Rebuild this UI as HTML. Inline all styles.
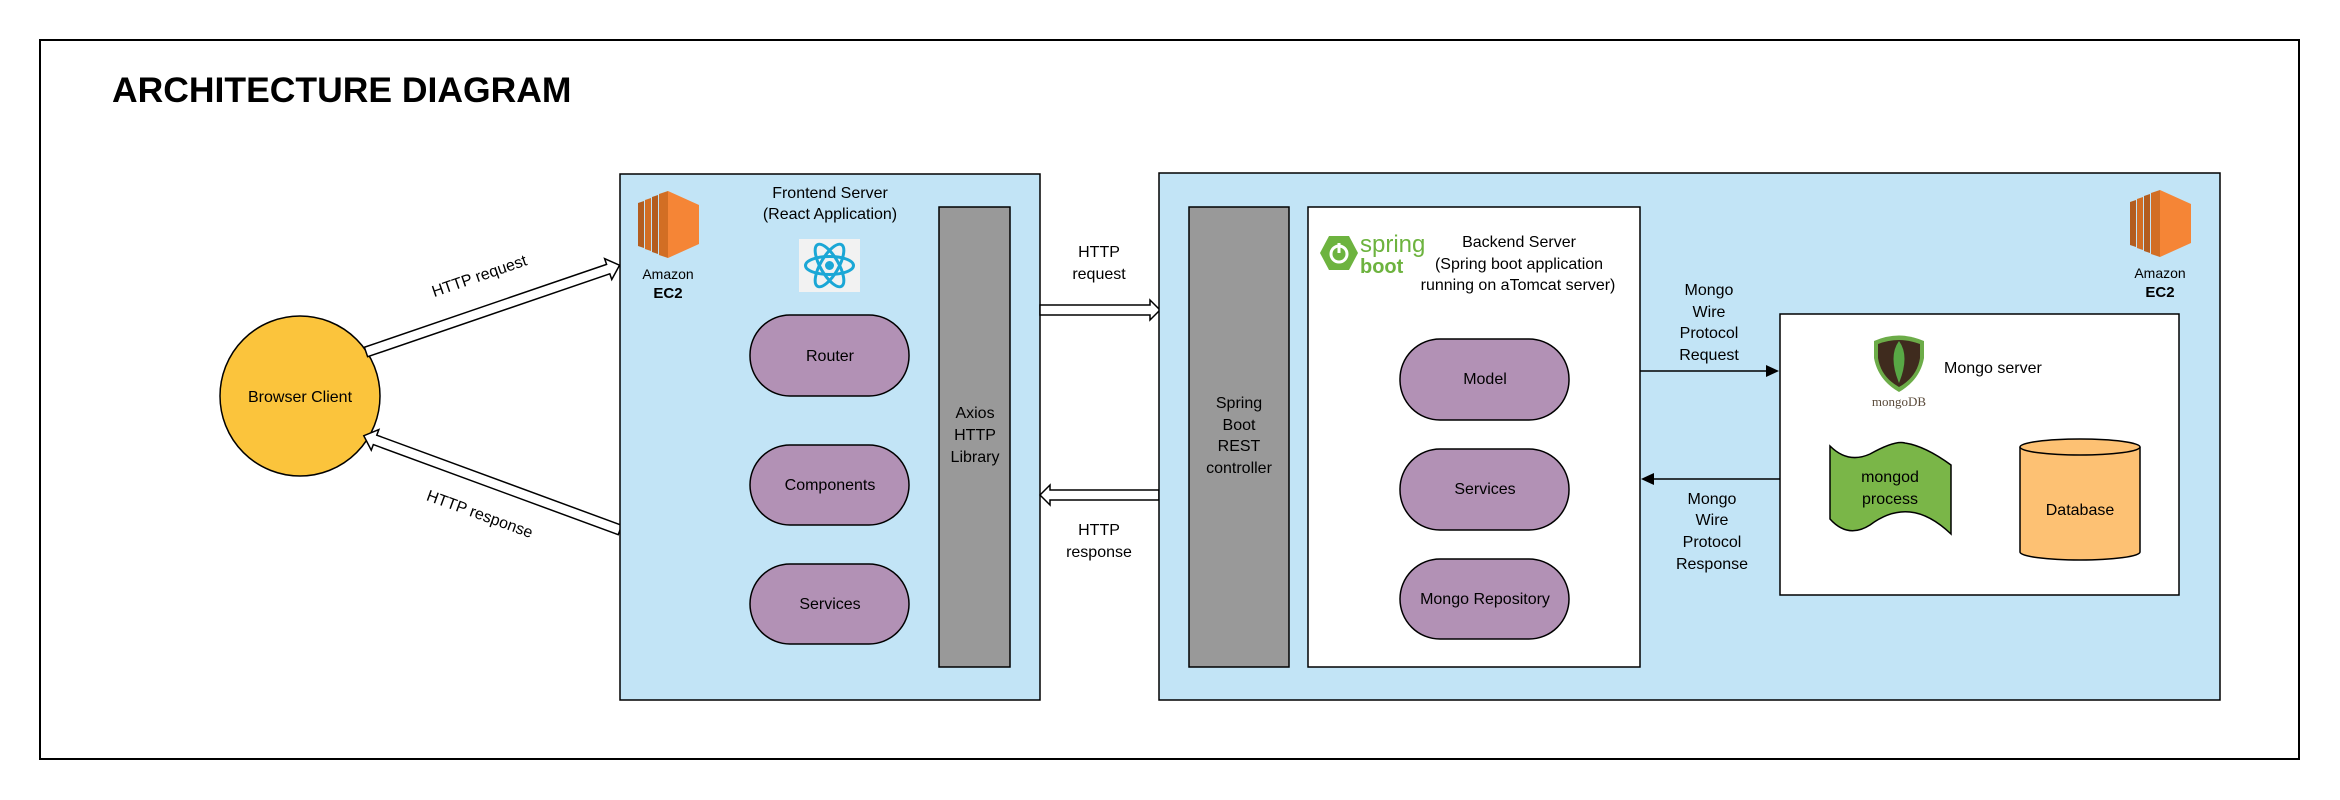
<!DOCTYPE html>
<html><head><meta charset="utf-8"><style>
html,body{margin:0;padding:0;background:#fff;}
svg{display:block;}
text{font-family:"Liberation Sans",sans-serif;fill:#000;}
</style></head><body>
<svg width="2340" height="800" viewBox="0 0 2340 800" xmlns="http://www.w3.org/2000/svg">
<defs>
<g id="ec2">
  <polygon points="0,12 6,10 6,57 0,55" fill="#b35d1f"/>
  <polygon points="7,9 13,7 13,60 7,58" fill="#d26e24"/>
  <polygon points="14,6 20,4 20,63 14,61" fill="#b35d1f"/>
  <polygon points="21,3 30,0 30,67 21,64" fill="#d26e24"/>
  <polygon points="30,0 61,14 61,53 30,67" fill="#f58536"/>
</g>
</defs>
<rect x="40" y="40" width="2259" height="719" fill="#fff" stroke="#000" stroke-width="2"/>
<text x="112" y="102" font-size="35.5" font-weight="bold">ARCHITECTURE DIAGRAM</text>

<!-- Browser client -->
<circle cx="300" cy="396" r="80" fill="#fbc43c" stroke="#000" stroke-width="1.5"/>
<text x="300" y="402" font-size="16" text-anchor="middle">Browser Client</text>

<!-- hollow arrows -->
<g transform="translate(366,352) rotate(-18.9)">
  <polygon points="0,-5 256,-5 256,-11 268,0 256,11 256,5 0,5" fill="#fff" stroke="#000" stroke-width="1.5"/>
</g>
<text x="0" y="0" font-size="16" text-anchor="middle" transform="translate(481,281) rotate(-19)">HTTP request</text>
<g transform="translate(620,530) rotate(200.2)">
  <polygon points="0,-5 261,-5 261,-11 273,0 261,11 261,5 0,5" fill="#fff" stroke="#000" stroke-width="1.5"/>
</g>
<text x="0" y="0" font-size="16" text-anchor="middle" transform="translate(478,519) rotate(20)">HTTP response</text>

<!-- Frontend -->
<rect x="620" y="174" width="420" height="526" fill="#c2e4f6" stroke="#000" stroke-width="1.5"/>
<use href="#ec2" x="638" y="191"/>
<text x="668" y="279" font-size="14" text-anchor="middle" fill="#222">Amazon</text>
<text x="668" y="298" font-size="15" font-weight="bold" text-anchor="middle">EC2</text>
<text x="830" y="198" font-size="16" text-anchor="middle">Frontend Server</text>
<text x="830" y="219" font-size="16" text-anchor="middle">(React Application)</text>
<rect x="799" y="239" width="61" height="53" fill="#f2f2f2"/>
<g transform="translate(829.5,265.5)" fill="none" stroke="#1ba7d6" stroke-width="3">
  <ellipse rx="24" ry="9"/>
  <ellipse rx="24" ry="9" transform="rotate(60)"/>
  <ellipse rx="24" ry="9" transform="rotate(120)"/>
  <circle r="4.5" fill="#1ba7d6" stroke="none"/>
</g>
<rect x="750" y="315" width="159" height="81" rx="40" fill="#b291b5" stroke="#000" stroke-width="1.5"/>
<text x="830" y="361" font-size="16" text-anchor="middle">Router</text>
<rect x="750" y="445" width="159" height="80" rx="40" fill="#b291b5" stroke="#000" stroke-width="1.5"/>
<text x="830" y="490" font-size="16" text-anchor="middle">Components</text>
<rect x="750" y="564" width="159" height="80" rx="40" fill="#b291b5" stroke="#000" stroke-width="1.5"/>
<text x="830" y="609" font-size="16" text-anchor="middle">Services</text>
<rect x="939" y="207" width="71" height="460" fill="#999" stroke="#000" stroke-width="1.5"/>
<text x="975" y="418" font-size="16" text-anchor="middle">Axios</text>
<text x="975" y="440" font-size="16" text-anchor="middle">HTTP</text>
<text x="975" y="462" font-size="16" text-anchor="middle">Library</text>

<!-- horizontal hollow arrows -->
<polygon points="1040,305 1150,305 1150,300 1160,310 1150,320 1150,315 1040,315" fill="#fff" stroke="#000" stroke-width="1.5"/>
<text x="1099" y="257" font-size="16" text-anchor="middle">HTTP</text>
<text x="1099" y="279" font-size="16" text-anchor="middle">request</text>
<polygon points="1159,490 1050,490 1050,485 1040,495 1050,505 1050,500 1159,500" fill="#fff" stroke="#000" stroke-width="1.5"/>
<text x="1099" y="535" font-size="16" text-anchor="middle">HTTP</text>
<text x="1099" y="557" font-size="16" text-anchor="middle">response</text>

<!-- Backend -->
<rect x="1159" y="173" width="1061" height="527" fill="#c2e4f6" stroke="#000" stroke-width="1.5"/>
<rect x="1189" y="207" width="100" height="460" fill="#999" stroke="#000" stroke-width="1.5"/>
<text x="1239" y="408" font-size="16" text-anchor="middle">Spring</text>
<text x="1239" y="430" font-size="16" text-anchor="middle">Boot</text>
<text x="1239" y="451" font-size="16" text-anchor="middle">REST</text>
<text x="1239" y="473" font-size="16" text-anchor="middle">controller</text>
<rect x="1308" y="207" width="332" height="460" fill="#fff" stroke="#000" stroke-width="1.5"/>
<polygon points="1329,236 1349,236 1358,253 1349,270 1329,270 1320,253" fill="#6db33f"/>
<circle cx="1339" cy="254" r="8" fill="none" stroke="#fff" stroke-width="3"/>
<line x1="1339" y1="243" x2="1339" y2="253" stroke="#fff" stroke-width="3"/>
<text x="1360" y="252" font-size="24" style="fill:#6db33f">spring</text>
<text x="1360" y="273" font-size="20" font-weight="bold" style="fill:#6db33f">boot</text>
<text x="1519" y="247" font-size="16" text-anchor="middle">Backend Server</text>
<text x="1519" y="269" font-size="16" text-anchor="middle">(Spring boot application</text>
<text x="1518" y="290" font-size="16" text-anchor="middle">running on aTomcat server)</text>
<rect x="1400" y="339" width="169" height="81" rx="40" fill="#b291b5" stroke="#000" stroke-width="1.5"/>
<text x="1485" y="384" font-size="16" text-anchor="middle">Model</text>
<rect x="1400" y="449" width="169" height="81" rx="40" fill="#b291b5" stroke="#000" stroke-width="1.5"/>
<text x="1485" y="494" font-size="16" text-anchor="middle">Services</text>
<rect x="1400" y="559" width="169" height="80" rx="40" fill="#b291b5" stroke="#000" stroke-width="1.5"/>
<text x="1485" y="604" font-size="16" text-anchor="middle">Mongo Repository</text>

<use href="#ec2" x="2130" y="190"/>
<text x="2160" y="278" font-size="14" text-anchor="middle" fill="#222">Amazon</text>
<text x="2160" y="297" font-size="15" font-weight="bold" text-anchor="middle">EC2</text>

<!-- mongo arrows -->
<line x1="1640" y1="371" x2="1766" y2="371" stroke="#000" stroke-width="1.5"/>
<polygon points="1766,365 1779,371 1766,377" fill="#000"/>
<text x="1709" y="295" font-size="16" text-anchor="middle">Mongo</text>
<text x="1709" y="317" font-size="16" text-anchor="middle">Wire</text>
<text x="1709" y="338" font-size="16" text-anchor="middle">Protocol</text>
<text x="1709" y="360" font-size="16" text-anchor="middle">Request</text>
<line x1="1780" y1="479" x2="1654" y2="479" stroke="#000" stroke-width="1.5"/>
<polygon points="1654,473 1641,479 1654,485" fill="#000"/>
<text x="1712" y="504" font-size="16" text-anchor="middle">Mongo</text>
<text x="1712" y="525" font-size="16" text-anchor="middle">Wire</text>
<text x="1712" y="547" font-size="16" text-anchor="middle">Protocol</text>
<text x="1712" y="569" font-size="16" text-anchor="middle">Response</text>

<!-- mongo server -->
<rect x="1780" y="314" width="399" height="281" fill="#fff" stroke="#000" stroke-width="1.5"/>
<path d="M1874,341 Q1899,330 1924,341 L1924,358 Q1920,380 1899,392 Q1878,380 1874,358 Z" fill="#6cac48"/>
<path d="M1878,344 Q1899,336 1920,344 L1920,358 Q1917,377 1899,387 Q1881,377 1878,358 Z" fill="#3f2b1e"/>
<path d="M1899,341 Q1910,356 1899,383 Q1888,356 1899,341 Z" fill="#58a845"/>
<text x="1899" y="406" font-size="13" text-anchor="middle" style="font-family:'Liberation Serif',serif;fill:#5a4a3a">mongoDB</text>
<text x="1944" y="373" font-size="16">Mongo server</text>
<path d="M1830,446 Q1848,464 1870,454 Q1895,440 1905,443 Q1925,446 1951,465 L1951,534 Q1930,514 1910,512 Q1890,510 1870,525 Q1848,539 1830,519 Z" fill="#7ab648" stroke="#000" stroke-width="1.5"/>
<text x="1890" y="482" font-size="16" text-anchor="middle">mongod</text>
<text x="1890" y="504" font-size="16" text-anchor="middle">process</text>
<path d="M2020,447 L2020,552 A60,8 0 0 0 2140,552 L2140,447" fill="#fdc173" stroke="#000" stroke-width="1.5"/>
<ellipse cx="2080" cy="447" rx="60" ry="8" fill="#fdc173" stroke="#000" stroke-width="1.5"/>
<text x="2080" y="515" font-size="16" text-anchor="middle">Database</text>
</svg>
</body></html>
